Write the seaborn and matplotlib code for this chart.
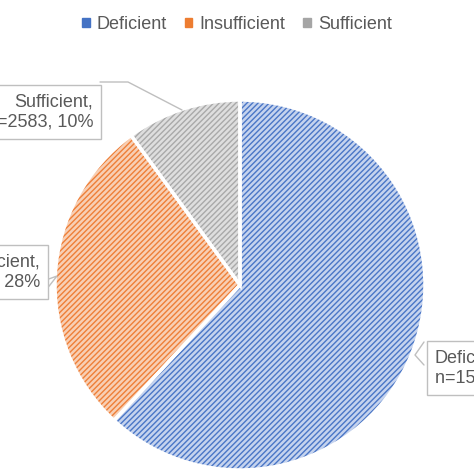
import matplotlib
matplotlib.use("Agg")
import matplotlib.pyplot as plt
import seaborn as sns
from matplotlib.patches import Patch

sns.set_theme(style="white")
plt.rcParams['font.family'] = ['Liberation Sans', 'DejaVu Sans']

categories = ['Deficient', 'Insufficient', 'Sufficient']
counts = [15962, 7231, 2583]
percents = [62, 28, 10]
fills = ['#c5d3ee', '#f8cfb4', '#dedede']
hatch_colors = ['#4a76c6', '#ee7f38', '#a9a9a9']
legend_colors = ['#4472c4', '#ed7d31', '#a5a5a5']

R = 185.0
CX, CY = 240, 285


def px(x, y):
    return (x - CX) / R, (CY - y) / R


fig = plt.figure(figsize=(4.74, 4.74), dpi=100)
ax = fig.add_axes([0, 0, 1, 1])

wedges, _ = ax.pie(counts, startangle=90, counterclock=False, colors=fills,
                   radius=1.0, wedgeprops=dict(linewidth=0))
for w, hc in zip(wedges, hatch_colors):
    w.set_hatch('//////')
    w.set_edgecolor(hc)
    w.set_linewidth(0)
ax.pie(counts, startangle=90, counterclock=False, radius=1.0,
       wedgeprops=dict(fill=False, edgecolor='white', linewidth=2.5))

ax.set_xlim(-CX / R, (474 - CX) / R)
ax.set_ylim(-(474 - CY) / R, CY / R)
ax.set_aspect('auto')
ax.axis('off')

box = dict(boxstyle='square,pad=0.45', fc='white', ec='#bfbfbf', lw=1)
tc = '#595959'
# Sufficient label
x, y = px(93, 112)
ax.text(x, y, f"{categories[2]},\nn={counts[2]}, {percents[2]}%", ha='right', va='center',
        fontsize=13, color=tc, bbox=box, linespacing=1.3)
ax.plot(*zip(px(100, 82), px(128, 82), px(182, 110)), color='#bfbfbf', lw=1)
# Insufficient label
x, y = px(40, 272)
ax.text(x, y, f"{categories[1]},\nn={counts[1]}, {percents[1]}%", ha='right', va='center',
        fontsize=13, color=tc, bbox=box, linespacing=1.3)
ax.plot(*zip(px(46, 280), px(57, 276), px(46, 290)), color='#bfbfbf', lw=1)
# Deficient label
x, y = px(435, 368)
ax.text(x, y, f"{categories[0]},\nn={counts[0]}, {percents[0]}%", ha='left', va='center',
        fontsize=13, color=tc, bbox=box, linespacing=1.3)
ax.plot(*zip(px(424, 342), px(415, 355), px(424, 365)), color='#bfbfbf', lw=1)

handles = [Patch(facecolor=c, edgecolor=c) for c in legend_colors]
fig.legend(handles, categories, loc='upper center', bbox_to_anchor=(0.5, 1.0), ncol=3,
           frameon=False, fontsize=13, handlelength=0.4, handleheight=0.4,
           handletextpad=0.4, columnspacing=1.0, labelcolor=tc)

fig.savefig('out.png', dpi=100)
